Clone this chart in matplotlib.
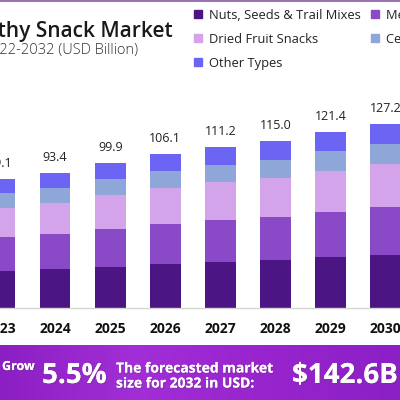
import numpy as np
import matplotlib
matplotlib.use('Agg')
import matplotlib.pyplot as plt
from matplotlib.lines import Line2D
from matplotlib.patches import Rectangle
from matplotlib.colors import LinearSegmentedColormap
import matplotlib.patheffects as pe

plt.rcParams['font.family'] = ['Open Sans', 'DejaVu Sans']

# Visible part of the chart (2023-2030), USD billion
years = ['2023', '2024', '2025', '2026', '2027', '2028', '2029', '2030']
nuts = [25.2, 26.8, 28.6, 30.5, 31.6, 33.0, 34.9, 36.5]
meat = [23.7, 24.3, 25.9, 27.7, 29.1, 29.8, 31.5, 33.4]
dried = [20.4, 21.6, 23.2, 24.5, 25.9, 26.6, 28.3, 29.1]
cereal = [9.9, 10.1, 11.0, 11.7, 12.2, 12.6, 13.8, 14.2]
other = [9.9, 10.6, 11.2, 11.7, 12.4, 13.0, 12.9, 14.0]

series = [
    ('Nuts, Seeds & Trail Mixes', nuts, '#4B1583'),
    ('Meat Snacks', meat, '#8A4AC8'),
    ('Dried Fruit Snacks', dried, '#D4A4EA'),
    ('Cereal & Granola Bars', cereal, '#8FA7D8'),
    ('Other Types', other, '#6C65F4'),
]

W, H = 400, 400


def fx(px):
    return px / W


def fy(py):
    return 1 - py / H


fig = plt.figure(figsize=(4, 4), dpi=100)
fig.patch.set_facecolor('white')

# main bar axes
ax = fig.add_axes([0, fy(308), 1, 308 / H])
x = np.arange(len(years))
bottom = np.zeros(len(years))
for name, vals, color in series:
    ax.bar(x, vals, width=0.557, bottom=bottom, color=color, label=name, linewidth=0)
    bottom += np.array(vals)

for xi, tot in zip(x, bottom):
    ax.annotate(f'{tot:.1f}', (xi, tot), xytext=(0, 8.6), textcoords='offset points',
                ha='center', va='baseline', fontsize=9, color='#222222')

ax.set_xlim(0.065, 7.259)
ax.set_ylim(0, 212.4)
ax.set_xticks(x)
ax.set_xticklabels(years, fontsize=10, fontweight='bold', color='#111111')
ax.tick_params(axis='x', length=0, pad=10)
ax.set_yticks([])
for s in ['top', 'left', 'right']:
    ax.spines[s].set_visible(False)
ax.spines['bottom'].set_color('#d6d6d6')
ax.spines['bottom'].set_linewidth(1)

# top border
fig.add_artist(Rectangle((0, fy(1.5)), 1, 1.5 / H, transform=fig.transFigure,
                         color='#9c72b2', lw=0))

# title
fig.text(fx(173), fy(36.7), 'Healthy Snack Market', ha='right', va='baseline',
         fontsize=15, fontweight='semibold', color='#1a1a1a')
fig.text(fx(138), fy(54), 'Size, By Type, 2022-2032 (USD Billion)', ha='right',
         va='baseline', fontsize=10.5, fontweight='light', color='#333333')

# legend, column-wise order so rows read left to right
handles = [Line2D([], [], marker='s', ls='', markersize=6, color=c, label=n)
           for n, _, c in series]
order = [0, 2, 4, 1, 3]
fig.legend(handles=[handles[i] for i in order], loc='upper left',
           bbox_to_anchor=(fx(193), fy(9)), ncol=2, frameon=False, fontsize=9.3,
           handlelength=0.8, handletextpad=0.45, columnspacing=0.7,
           labelspacing=0.85, borderpad=0, borderaxespad=0, labelcolor='#222222')

# bottom banner
bax = fig.add_axes([0, 0, 1, 55 / H])
cmap = LinearSegmentedColormap.from_list('banner', ['#8c1fc4', '#a12ed6', '#9824cd', '#8b20c6'])
bax.imshow(np.linspace(0, 1, 256)[None, :], aspect='auto', cmap=cmap, extent=(0, 1, 0, 1))
bax.set_axis_off()

shadow = [pe.withSimplePatchShadow(offset=(1, -1), alpha=0.25), pe.Normal()]
fig.text(fx(35), fy(370), 'Will Grow', ha='right', va='baseline',
         fontsize=9, fontweight='bold', color='white', path_effects=shadow)
fig.text(fx(42), fy(383), '5.5%', ha='left', va='baseline', fontsize=20,
         fontweight='bold', color='white', path_effects=shadow)
fig.text(fx(116), fy(372.5), 'The forecasted market', ha='left', va='baseline',
         fontsize=10, fontweight='bold', color='white', path_effects=shadow)
fig.text(fx(116), fy(387.5), 'size for 2032 in USD:', ha='left', va='baseline',
         fontsize=10, fontweight='bold', color='white', path_effects=shadow)
fig.text(fx(292), fy(383), '$142.6B', ha='left', va='baseline', fontsize=20,
         fontweight='bold', color='white', path_effects=shadow)

fig.savefig('out.png', dpi=100)
